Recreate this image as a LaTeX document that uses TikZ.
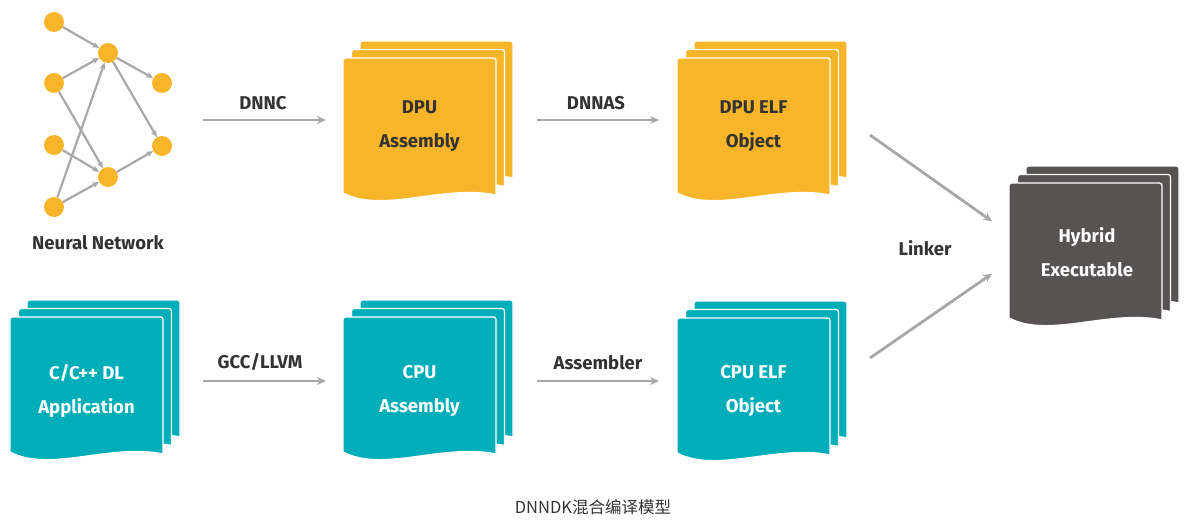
\documentclass[tikz,border=0pt]{standalone}
\usepackage{fontspec}
\usetikzlibrary{arrows.meta}
\setmainfont{Fira Sans}
\newfontfamily\cjk{Noto Sans CJK SC}
\definecolor{ylw}{HTML}{F7B52A}
\definecolor{teal}{HTML}{00AEB9}
\definecolor{dgray}{HTML}{575352}
\definecolor{arr}{HTML}{A8A8A8}
\definecolor{txt}{HTML}{333333}
\newcommand\onepage[3]{%
  \filldraw[fill=#3,draw=white,line width=1.3pt,rounded corners=2.5pt]
   ({#1},{#2+135}) -- ({#1},{#2}) -- ({#1+153},{#2}) [sharp corners] -- ({#1+153},{#2+137})
   .. controls ({#1+100},{#2+126}) and ({#1+40},{#2+156}) .. ({#1},{#2+135}) -- cycle;}
\newcommand\docstack[3]{%
  \onepage{#1+17}{#2-17}{#3}\onepage{#1+8.5}{#2-8.5}{#3}\onepage{#1}{#2}{#3}}
\begin{document}
\begin{tikzpicture}[x=1pt,y=-1pt,
  nn/.style={circle,fill=ylw,minimum size=20pt,inner sep=0pt},
  e/.style={draw=arr,line width=2.8pt,-{Stealth[length=9pt,width=8pt]},shorten >=1pt},
  ed/.style={draw=arr,line width=2.2pt,-{Stealth[length=7pt,width=6pt]}},
  lbl/.style={font=\bfseries\fontsize{18.5}{22}\selectfont,text=txt},
  ptxt/.style={font=\bfseries\fontsize{18.5}{22}\selectfont,align=center}]
\useasboundingbox (0,0) rectangle (1185,522);
% neural network
\node[nn] (i1) at (54,22) {};
\node[nn] (i2) at (54,83) {};
\node[nn] (i3) at (54,145) {};
\node[nn] (i4) at (54,207) {};
\node[nn] (h1) at (108,53) {};
\node[nn] (h2) at (108,177) {};
\node[nn] (o1) at (162,83) {};
\node[nn] (o2) at (162,146) {};
\foreach \a/\b in {i1/h1,i2/h1,i2/h2,i3/h2,i4/h2,i4/h1,h1/o1,h1/o2,h2/o2}
  \draw[ed] (\a) -- (\b);
\node[lbl] (nnl) at (98,243) {Neural Network};
% stacks
\docstack{343}{58}{ylw}
\docstack{677}{58}{ylw}
\docstack{10}{317}{teal}
\docstack{343}{317}{teal}
\docstack{677}{318}{teal}
\docstack{1009}{183}{dgray}
\node[ptxt,text=txt] (dpua) at (419.5,126) {DPU\\[12pt]Assembly};
\node[ptxt,text=txt] (dpue) at (753.5,126) {DPU ELF\\[12pt]Object};
\node[ptxt,text=white] (capp) at (86.5,391) {C/C++ DL\\[12pt]Application};
\node[ptxt,text=white] (cpua) at (419.5,391) {CPU\\[12pt]Assembly};
\node[ptxt,text=white] (cpue) at (753.5,391) {CPU ELF\\[12pt]Object};
\node[ptxt,text=white] (hyb) at (1087,252) {Hybrid\\[12pt]Executable};
% arrows
\coordinate (a1s) at (203,120); \coordinate (a1e) at (327,120);
\coordinate (a2s) at (537,120); \coordinate (a2e) at (660,120);
\coordinate (a3s) at (203,381); \coordinate (a3e) at (327,381);
\coordinate (a4s) at (537,381); \coordinate (a4e) at (660,381);
\coordinate (l1s) at (870,135); \coordinate (l1e) at (993,222);
\coordinate (l2s) at (870,358); \coordinate (l2e) at (993,273);
\foreach \s/\t in {a1s/a1e,a2s/a2e,a3s/a3e,a4s/a4e,l1s/l1e,l2s/l2e}
  \draw[e] (\s) -- (\t);
\node[lbl] (t1) at (263,103) {DNNC};
\node[lbl] (t2) at (596,103) {DNNAS};
\node[lbl] (t3) at (260,362) {GCC/LLVM};
\node[lbl] (t4) at (598,363) {Assembler};
\node[lbl] (t5) at (925,248) {Linker};
\node[font=\cjk\fontsize{16.5}{20}\selectfont,text=txt] (cap) at (593,507) {DNNDK混合编译模型};
\end{tikzpicture}
\end{document}
